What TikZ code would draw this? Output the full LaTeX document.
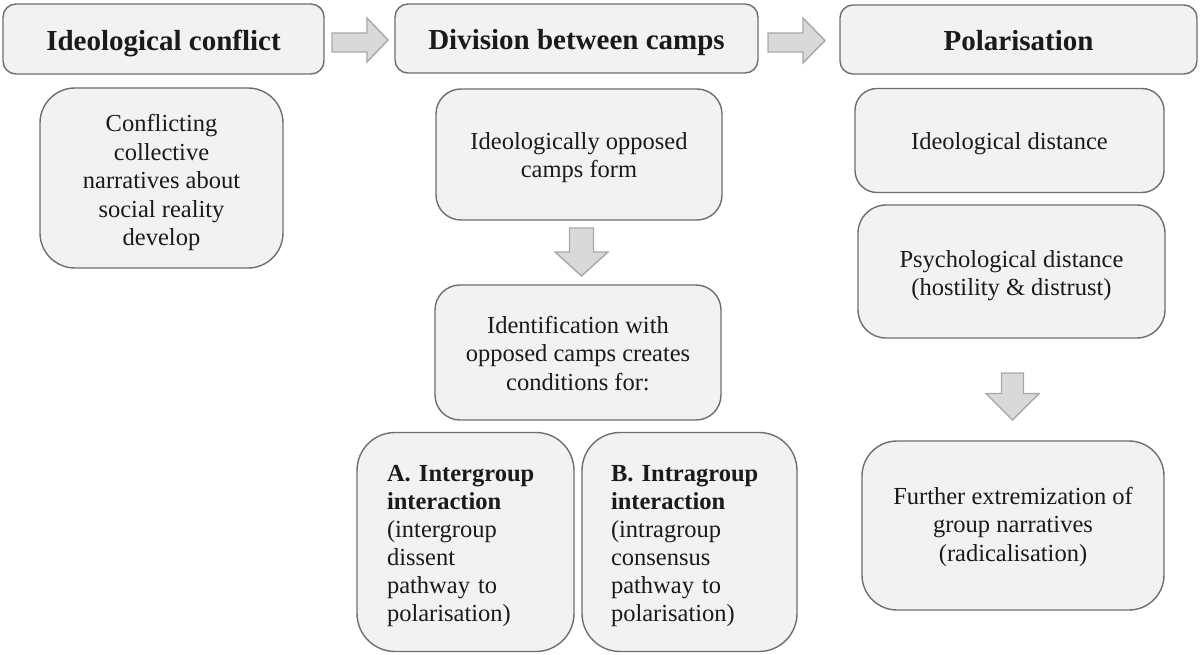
\documentclass[tikz,border=0pt]{standalone}
\usepackage{fontspec}
\setmainfont{Liberation Serif}
\definecolor{boxfill}{HTML}{F2F2F2}
\definecolor{boxline}{HTML}{6E6E6E}
\definecolor{arrfill}{HTML}{D9D9D9}
\definecolor{arrline}{HTML}{A8A8A8}
\definecolor{txt}{HTML}{1A1A1A}
\newcommand\topstrut[1]{\rule{0pt}{#1pt}}
\tikzset{
  basebox/.style={draw=boxline, fill=boxfill, line width=1.4pt, text=txt, align=center, inner sep=0pt},
  headbox/.style={basebox, rounded corners=13pt, font=\fontsize{29}{34}\selectfont\bfseries, text height=24pt, text depth=1pt},
  txtbox/.style={basebox, font=\fontsize{24.5}{28.5}\selectfont},
  pathbox/.style={basebox, rounded corners=38pt, minimum height=219pt, text width=157pt, align=left, font=\fontsize{24.5}{28}\selectfont},
  blockarrow/.style={draw=arrline, fill=arrfill, line width=1.4pt, line join=miter},
}
\begin{document}
\begin{tikzpicture}[x=1pt, y=-1pt]
\useasboundingbox (0,0) rectangle (1200,655);
% headers
\node[headbox, minimum width=321pt, minimum height=70pt] (h1) at (163.5,39) {Ideological conflict};
\node[headbox, minimum width=363pt, minimum height=69pt] (h2) at (576.5,38.5) {Division between camps};
\node[headbox, minimum width=357pt, minimum height=69pt] (h3) at (1018.5,39.5) {Polarisation};
% header arrows
\draw[blockarrow] (332,33) -- (367,33) -- (367,18) -- (388,40) -- (367,62) -- (367,52) -- (332,52) -- cycle;
\draw[blockarrow] (768,33) -- (803,33) -- (803,18) -- (825,40.5) -- (803,63) -- (803,52) -- (768,52) -- cycle;
% left column
\node[txtbox, rounded corners=35pt, minimum width=243pt, minimum height=180pt] (c1) at (161.5,178)
  {\topstrut{27}Conflicting\\collective\\narratives about\\social reality\\develop};
% middle column
\node[txtbox, rounded corners=25pt, minimum width=286pt, minimum height=131pt] (m1) at (579,154.5)
  {\topstrut{23}Ideologically opposed\\camps form};
\draw[blockarrow] (569.5,228) -- (593.5,228) -- (593.5,252) -- (608,252) -- (581.5,276) -- (555,252) -- (569.5,252) -- cycle;
\node[txtbox, rounded corners=25pt, minimum width=286pt, minimum height=135pt] (m2) at (578,352.5)
  {\topstrut{19}Identification with\\opposed camps creates\\conditions for:};
\node[pathbox, minimum width=217pt] (pa) at (465.5,542)
  {\topstrut{25}\textbf{A. Intergroup}\\\textbf{interaction}\\(intergroup\\dissent\\pathway to\\polarisation)};
\node[pathbox, minimum width=215pt] (pb) at (689.5,542)
  {\topstrut{25}\textbf{B. Intragroup}\\\textbf{interaction}\\(intragroup\\consensus\\pathway to\\polarisation)};
% right column
\node[txtbox, rounded corners=22pt, minimum width=309pt, minimum height=104pt] (r1) at (1009.5,140.5)
  {\topstrut{24}Ideological distance};
\node[txtbox, rounded corners=28pt, minimum width=307pt, minimum height=133pt] (r2) at (1011.5,271.5)
  {\topstrut{25}Psychological distance\\(hostility \& distrust)};
\draw[blockarrow] (1001.5,373) -- (1023.5,373) -- (1023.5,393.5) -- (1039,393.5) -- (1012.5,420) -- (986,393.5) -- (1001.5,393.5) -- cycle;
\node[txtbox, rounded corners=35pt, minimum width=302pt, minimum height=169pt] (r3) at (1013,525.5)
  {\topstrut{20}Further extremization of\\group narratives\\(radicalisation)};
\end{tikzpicture}
\end{document}
